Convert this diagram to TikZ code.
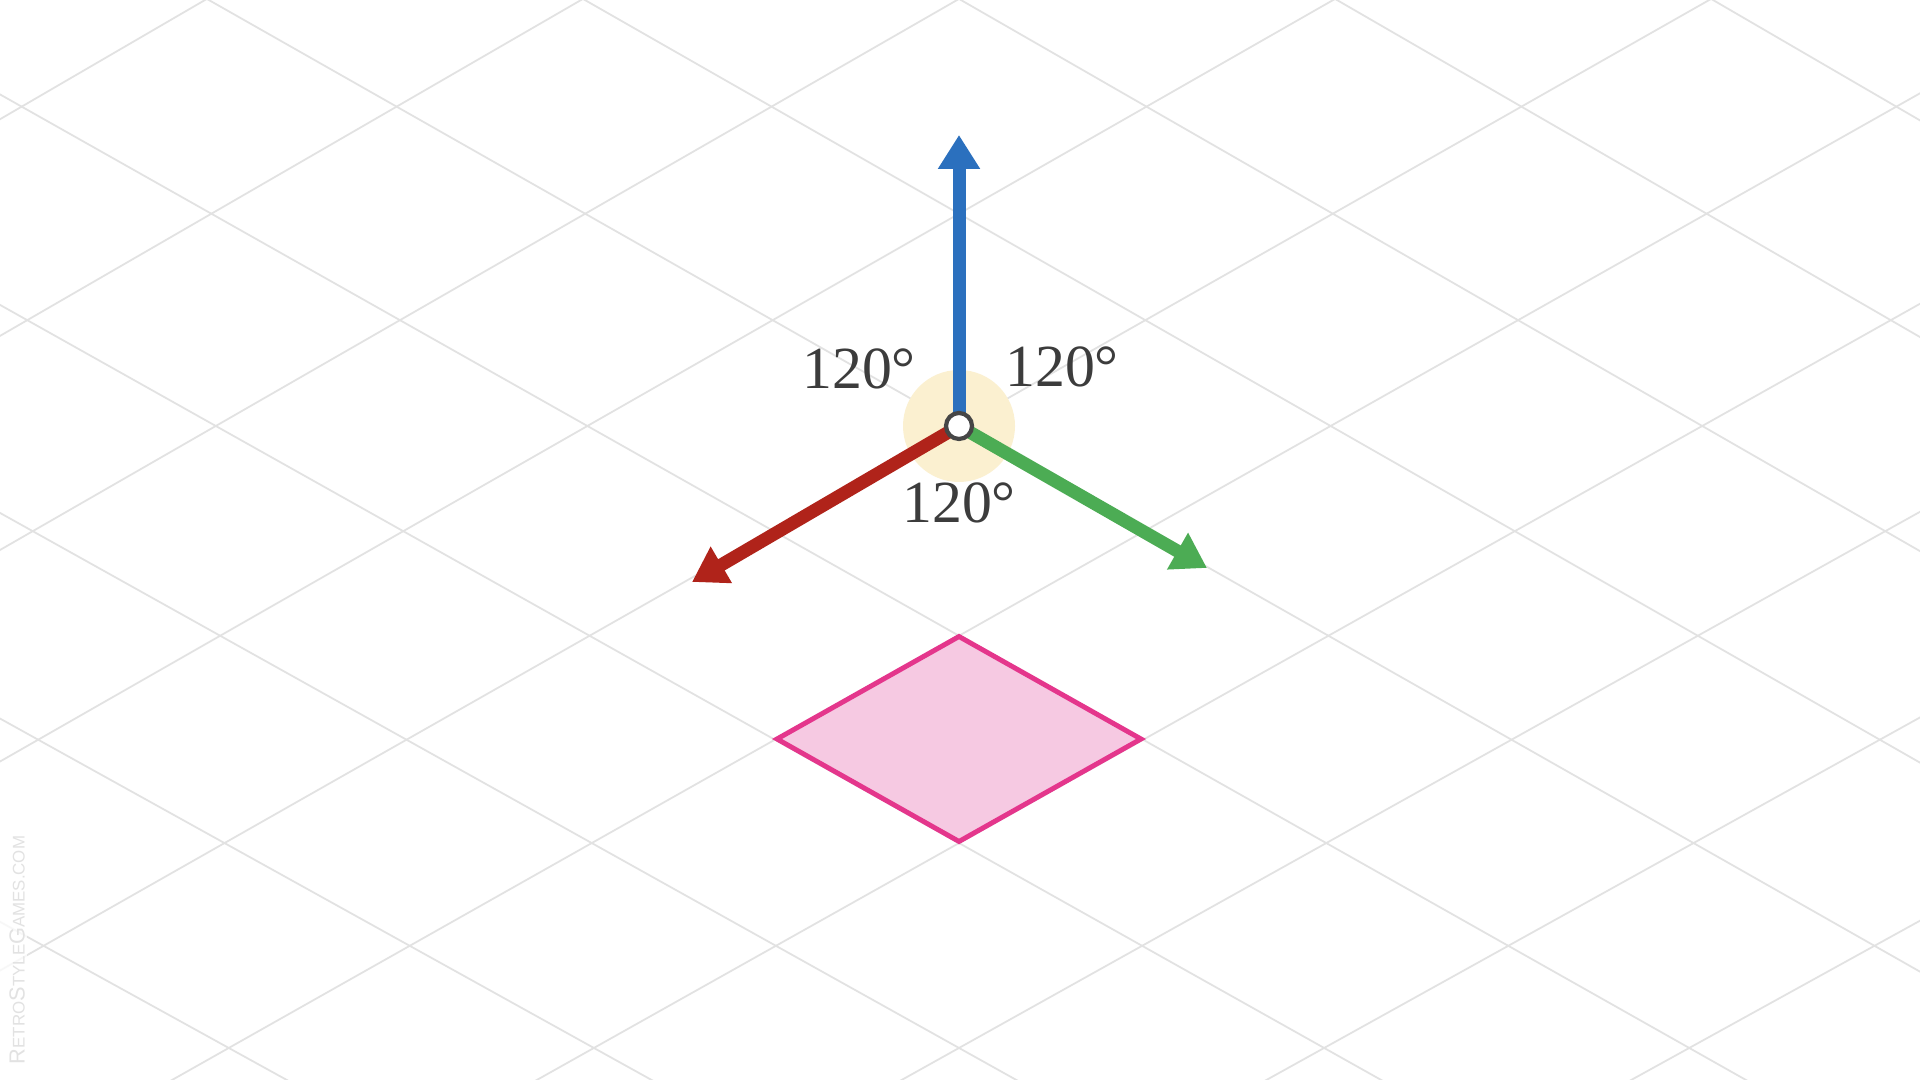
\documentclass[tikz,border=0pt]{standalone}
\usepackage{fontspec}
\setmainfont{Liberation Serif}
\setsansfont{Liberation Sans}
\usepackage{xcolor}
\usepackage{tikz}
\usetikzlibrary{arrows.meta, shapes.geometric, positioning, calc}

\definecolor{gridgray}{RGB}{226,226,226}
\definecolor{axisblue}{RGB}{43,112,190}
\definecolor{axisred}{RGB}{176,35,26}
\definecolor{axisgreen}{RGB}{76,172,84}
\definecolor{glowyellow}{RGB}{251,240,208}
\definecolor{dotgray}{RGB}{70,70,70}
\definecolor{labelgray}{RGB}{60,60,60}
\definecolor{tilepink}{RGB}{228,54,140}
\definecolor{tilefill}{RGB}{246,201,226}
\definecolor{markgray}{RGB}{226,226,226}

\newcommand{\wmsmall}[1]{{\fontsize{4.8pt}{5pt}\selectfont #1}}

\begin{document}
\begin{tikzpicture}[
    gridline/.style={draw=gridgray, line width=0.5pt},
    axis/.style={line width=3.7pt, -{Triangle[length=0.34cm, width=0.40cm]}},
    angle/.style={font=\fontsize{17}{17}\selectfont, text=labelgray, inner sep=0pt},
    dot/.style={circle, draw=dotgray, fill=white, line width=1.2pt, minimum size=0.26cm, inner sep=0pt},
    glow/.style={circle, fill=glowyellow, minimum size=1.12cm, inner sep=0pt},
    tile/.style={diamond, draw=tilepink, fill=tilefill, line width=1.4pt, inner sep=0pt,
        minimum width=3.66cm, minimum height=2.07cm, aspect=1.768},
]
\useasboundingbox (0,0) rectangle (19.2,10.8);
\fill[white] (0,0) rectangle (19.2,10.8);
\begin{scope}
\clip (0,0) rectangle (19.2,10.8);
\foreach \k in {-7,...,7}{
    \pgfmathsetmacro{\xt}{9.59+2*\k*1.858*(1+0.0028*4.4)}
    \pgfmathsetmacro{\xb}{9.59+2*\k*1.858*(1-0.0028*6.7)}
    \draw[gridline] ({\xt-4.4*1.7611},10.94) -- ({\xb+6.7*1.7611},-0.16);
    \draw[gridline] ({\xt+4.4*1.7611},10.94) -- ({\xb-6.7*1.7611},-0.16);
}
\end{scope}

\node[tile] (tile) at (9.59,3.41) {};

\coordinate (origin) at (9.59,6.54);
\coordinate (ytip) at (9.59,9.45);
\coordinate (xtip) at (6.92,4.98);
\coordinate (ztip) at (12.07,5.12);

\node[glow] (glow) at (origin) {};
\draw[axis, axisblue] (origin) -- (ytip);
\draw[axis, axisred] (origin) -- (xtip);
\draw[axis, axisgreen] (origin) -- (ztip);
\node[dot] (o) at (origin) {};

\node[angle] (anglexy) at (8.59,7.11) {120°};
\node[angle] (angleyz) at (10.62,7.13) {120°};
\node[angle] (anglexz) at (9.59,5.77) {120°};

\fill[white, opacity=0.75] (0,0) rectangle (0.27,2.62);
\node[rotate=90, text=markgray, font=\sffamily\fontsize{6.2pt}{6pt}\selectfont, inner sep=0pt] (mark) at (0.17,1.30)
    {R\wmsmall{ETRO}S\wmsmall{TYLE}G\wmsmall{AMES.COM}};
\end{tikzpicture}
\end{document}
